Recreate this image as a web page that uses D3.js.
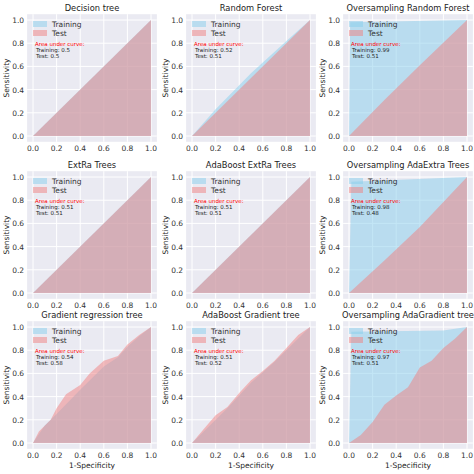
<!DOCTYPE html>
<html><head><meta charset="utf-8">
<script src="https://cdn.jsdelivr.net/npm/d3@7"></script>
<style>body{margin:0;background:#fff}text{font-family:"DejaVu Sans",Arial,sans-serif}</style>
</head><body><svg width="474" height="474"></svg>
<script>
// Panel titles and AUC values
const titles = ["Decision tree","Random Forest","Oversampling Random Forest",
  "ExtRa Trees","AdaBoost ExtRa Trees","Oversampling AdaExtra Trees",
  "Gradient regression tree","AdaBoost Gradient tree","Oversampling AdaGradient tree"];
const aucTrain = [0.5,0.52,0.99,0.51,0.51,0.98,0.54,0.51,0.97];
const aucTest = [0.5,0.51,0.51,0.51,0.51,0.48,0.58,0.52,0.51];
const ticks = [0,0.2,0.4,0.6,0.8,1.0];

// ROC curves, [fpr, tpr] pairs
const diag = [[0,0],[1,1]];
const trainCurves = [
  diag,
  [[0,0],[0.2,0.23],[0.5,0.54],[0.8,0.82],[1,1]],
  [[0,0],[0.01,0.98],[1,1]],
  diag, diag,
  [[0,0],[0.02,0.96],[1,1]],
  [[0,0],[0.1,0.15],[0.2,0.25],[0.4,0.46],[0.6,0.66],[0.72,0.74],[0.8,0.83],[0.9,0.92],[1,1]],
  [[0,0],[0.1,0.1],[0.3,0.3],[0.5,0.52],[0.7,0.7],[0.9,0.9],[1,1]],
  [[0,0],[0.02,0.96],[0.8,0.97],[1,1]]
];
const testCurves = [
  diag, diag,
  [[0,0],[0.3,0.31],[0.6,0.61],[1,1]],
  diag, diag,
  [[0,0],[0.3,0.28],[0.6,0.57],[1,1]],
  [[0,0],[0.05,0.1],[0.15,0.2],[0.2,0.3],[0.28,0.42],[0.4,0.5],[0.48,0.6],[0.6,0.71],[0.72,0.75],[0.8,0.85],[0.9,0.93],[1,1]],
  [[0,0],[0.1,0.12],[0.2,0.24],[0.3,0.31],[0.4,0.43],[0.5,0.54],[0.6,0.62],[0.7,0.71],[0.8,0.82],[0.9,0.93],[1,1]],
  [[0,0],[0.1,0.07],[0.2,0.18],[0.3,0.33],[0.4,0.41],[0.5,0.48],[0.6,0.65],[0.7,0.71],[0.8,0.82],[0.9,0.9],[1,1]]
];

const svg = d3.select("svg");
const colX = [33, 192, 349], rowY = [20, 177, 327];
const pw = 118, ph = 116;

titles.forEach((t, i) => {
  const c = i % 3, r = Math.floor(i / 3);
  const g = svg.append("g").attr("transform", `translate(${colX[c]},${rowY[r]})`);
  const x = d3.scaleLinear().domain([0, 1]).range([0, pw]);
  const y = d3.scaleLinear().domain([0, 1]).range([ph, 0]);
  g.append("rect").attr("x", x(-0.05)).attr("y", y(1.05))
    .attr("width", x(1.05) - x(-0.05)).attr("height", y(-0.05) - y(1.05)).attr("fill", "#eaeaf2");
  ticks.forEach(v => {
    g.append("line").attr("x1", x(v)).attr("x2", x(v)).attr("y1", y(-0.05)).attr("y2", y(1.05)).attr("stroke", "#fff");
    g.append("line").attr("y1", y(v)).attr("y2", y(v)).attr("x1", x(-0.05)).attr("x2", x(1.05)).attr("stroke", "#fff");
    g.append("text").attr("x", x(v)).attr("y", y(-0.05) + 9.5).attr("text-anchor", "middle")
      .attr("font-size", 7.5).attr("fill", "#333").text(v.toFixed(1));
    g.append("text").attr("x", x(-0.05) - 3).attr("y", y(v) + 3).attr("text-anchor", "end")
      .attr("font-size", 7.5).attr("fill", "#333").text(v.toFixed(1));
  });
  const area = d3.area().x(d => x(d[0])).y0(y(0)).y1(d => y(d[1]));
  g.append("path").datum(trainCurves[i]).attr("d", area).attr("fill", "#87ceeb").attr("fill-opacity", 0.5);
  g.append("path").datum(testCurves[i]).attr("d", area).attr("fill", "#f08080").attr("fill-opacity", 0.5);
  // legend
  [["Training", "#87ceeb", 0.5], ["Test", "#f08080", 0.5]].forEach((l, k) => {
    g.append("rect").attr("x", 0).attr("y", 1 + k * 9).attr("width", 14).attr("height", 6)
      .attr("fill", l[1]).attr("fill-opacity", l[2]);
    g.append("text").attr("x", 19).attr("y", 7 + k * 9).attr("font-size", 7.5).attr("fill", "#333").text(l[0]);
  });
  g.append("text").attr("x", 2).attr("y", 26).attr("font-size", 5.5).attr("fill", "red").text("Area under curve:");
  g.append("text").attr("x", 3).attr("y", 32).attr("font-size", 5.5).attr("fill", "#222").text("Training: " + aucTrain[i]);
  g.append("text").attr("x", 3).attr("y", 38).attr("font-size", 5.5).attr("fill", "#222").text("Test: " + aucTest[i]);
  g.append("text").attr("x", x(0.5)).attr("y", -9).attr("text-anchor", "middle")
    .attr("font-size", 8.3).attr("fill", "#222").text(t);
  g.append("text").attr("transform", `translate(${-24},${y(0.5)}) rotate(-90)`).attr("text-anchor", "middle")
    .attr("font-size", 7.5).attr("fill", "#222").text("Sensitivity");
  if (r === 2) g.append("text").attr("x", x(0.5)).attr("y", ph + 25).attr("text-anchor", "middle")
    .attr("font-size", 7.5).attr("fill", "#222").text("1-Specificity");
});
</script></body></html>
